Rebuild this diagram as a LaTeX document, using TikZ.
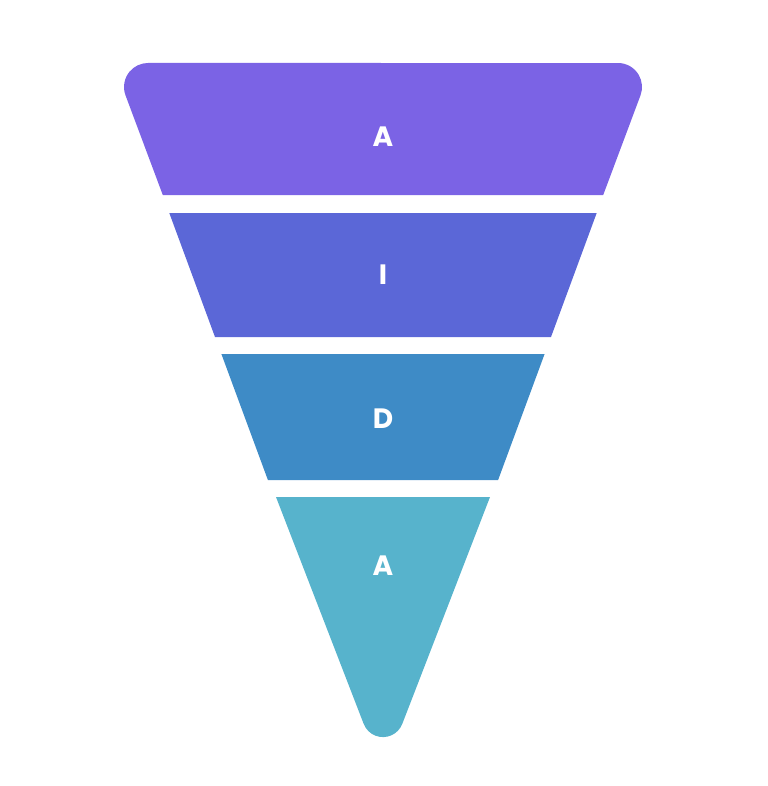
\documentclass[tikz,border=0pt]{standalone}
\usepackage{fontspec}
\newfontfamily\funnelfont{Poppins}
\usetikzlibrary{positioning,calc}
\definecolor{AttPurple}{RGB}{123,99,229}
\definecolor{IntBlue}{RGB}{91,103,215}
\definecolor{DesBlue}{RGB}{62,139,198}
\definecolor{ActCyan}{RGB}{87,179,204}
\tikzset{stage/.style={text=white,inner sep=0pt,font=\funnelfont\bfseries\fontsize{21pt}{21pt}\selectfont}}

\begin{document}
\begin{tikzpicture}[x=0.75pt,y=0.75pt]
        \useasboundingbox (0,0) rectangle (768,-786);
        % funnel bands, top to bottom
        \fill[AttPurple] (162.8,-195) -- (125.5,-95.3) arc[start angle=200.25,end angle=90,radius=24]
            -- (618,-63) arc[start angle=90,end angle=-20.25,radius=24] -- (603.2,-195) -- cycle;
        \fill[IntBlue] (169.3,-213) -- (596.7,-213) -- (551,-337) -- (215,-337) -- cycle;
        \fill[DesBlue] (221.4,-354) -- (544.6,-354) -- (498.1,-480) -- (267.9,-480) -- cycle;
        \fill[ActCyan] (276,-497) -- (490,-497) -- (402.3,-723.8)
            arc[start angle=-21,end angle=-159,radius=20.7] -- cycle;
        % stage letters
        \node[stage] (attention) at (383,-137) {A};
        \node[stage] (interest) at (383,-275) {I};
        \node[stage] (desire) at (383,-419) {D};
        \node[stage] (action) at (383,-566) {A};
    \end{tikzpicture}
\end{document}
